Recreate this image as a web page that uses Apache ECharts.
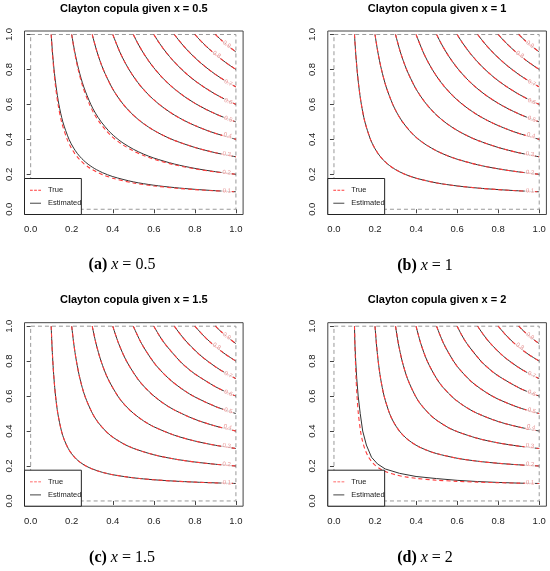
<!DOCTYPE html>
<html>
<head>
<meta charset="utf-8">
<script src="https://cdn.jsdelivr.net/npm/echarts@6/dist/echarts.min.js"></script>
<style>
html,body{margin:0;padding:0;background:#fff;}
#main{width:550px;height:571px;}
</style>
</head>
<body>
<div id="main"></div>
<script>
// axis ticks and the unit square drawn dashed in every panel
var tickVals = [0, 0.2, 0.4, 0.6, 0.8, 1];
var unitSquare = [[0,0],[1,0],[1,1],[0,1],[0,0]];

// contour labels (read at the right end of each level curve)
var levelText = ['0.1','0.2','0.3','0.4','0.5','0.6','0.7','0.8','0.9'];
var labelPos = [[0.955,0.105],[0.955,0.21],[0.955,0.316],[0.96,0.422],[0.963,0.516],[0.963,0.617],[0.963,0.723],[0.906,0.885],[0.955,0.943]];
var labelAngle = [-4, -6, -10, -14, -18, -22, -26, -32, -36];

// panel titles and captions
var xGiven = ['0.5', '1', '1.5', '2'];
var panelTag = ['a', 'b', 'c', 'd'];

// level curves (a) and (b)
var curvesAB = [
  [[0.1,1],[0.1055,0.9],[0.1125,0.8],[0.1214,0.7],[0.1335,0.6],[0.1507,0.5],[0.1778,0.4],[0.1982,0.35],[0.2141,0.32],[0.227,0.3],[0.2421,0.28],[0.26,0.26],[0.28,0.2421],[0.3,0.227],[0.32,0.2141],[0.35,0.1982],[0.4,0.1778],[0.5,0.1507],[0.6,0.1335],[0.7,0.1214],[0.8,0.1125],[0.9,0.1055],[1,0.1]],
  [[0.2,1],[0.2137,0.9],[0.2313,0.8],[0.2544,0.7],[0.2865,0.6],[0.3076,0.55],[0.334,0.5],[0.3678,0.45],[0.3884,0.425],[0.406,0.406],[0.425,0.3884],[0.45,0.3678],[0.5,0.334],[0.55,0.3076],[0.6,0.2865],[0.7,0.2544],[0.8,0.2313],[0.9,0.2137],[1,0.2]],
  [[0.3,1],[0.3234,0.9],[0.3537,0.8],[0.3942,0.7],[0.4202,0.65],[0.4514,0.6],[0.4899,0.55],[0.519,0.519],[0.55,0.4899],[0.6,0.4514],[0.65,0.4202],[0.7,0.3942],[0.8,0.3537],[0.9,0.3234],[1,0.3]],
  [[0.4,1],[0.4343,0.9],[0.4551,0.85],[0.4789,0.8],[0.5066,0.75],[0.5393,0.7],[0.5786,0.65],[0.613,0.613],[0.65,0.5786],[0.7,0.5393],[0.75,0.5066],[0.8,0.4789],[0.85,0.4551],[0.9,0.4343],[1,0.4]],
  [[0.5,1],[0.5216,0.95],[0.5461,0.9],[0.5742,0.85],[0.6064,0.8],[0.6443,0.75],[0.6703,0.72],[0.6945,0.6945],[0.72,0.6703],[0.75,0.6443],[0.8,0.6064],[0.85,0.5742],[0.9,0.5461],[0.95,0.5216],[1,0.5]],
  [[0.6,1],[0.6274,0.95],[0.6586,0.9],[0.6944,0.85],[0.7358,0.8],[0.767,0.767],[0.8,0.7358],[0.85,0.6944],[0.9,0.6586],[0.95,0.6274],[1,0.6]],
  [[0.7,1],[0.7336,0.95],[0.7718,0.9],[0.816,0.85],[0.833,0.833],[0.85,0.816],[0.9,0.7718],[0.95,0.7336],[1,0.7]],
  [[0.8,1],[0.8194,0.975],[0.84,0.95],[0.8667,0.92],[0.893,0.893],[0.92,0.8667],[0.95,0.84],[0.975,0.8194],[1,0.8]],
  [[0.9,1],[0.927,0.97],[0.948,0.948],[0.97,0.927],[1,0.9]]
];

// panel (a): the two lowest estimated curves sit a little outside the true ones
var estA1 = [[0.1,1],[0.1062,0.9],[0.114,0.8],[0.1241,0.7],[0.1375,0.6],[0.1568,0.5],[0.1869,0.4],[0.2095,0.35],[0.2271,0.32],[0.2411,0.3],[0.2577,0.28],[0.2685,0.2685],[0.28,0.2577],[0.3,0.2411],[0.32,0.2271],[0.35,0.2095],[0.4,0.1869],[0.5,0.1568],[0.6,0.1375],[0.7,0.1241],[0.8,0.114],[0.9,0.1062],[1,0.1]];
var estA2 = [[0.2,1],[0.215,0.9],[0.2339,0.8],[0.2588,0.7],[0.2931,0.6],[0.3156,0.55],[0.3436,0.5],[0.379,0.45],[0.3962,0.43],[0.4127,0.4127],[0.43,0.3962],[0.45,0.379],[0.5,0.3436],[0.55,0.3156],[0.6,0.2931],[0.7,0.2588],[0.8,0.2339],[0.9,0.215],[1,0.2]];

// panel (c)
var curvesC = [
  [[0.1,1],[0.1035,0.9],[0.1079,0.8],[0.1136,0.7],[0.1213,0.6],[0.1324,0.5],[0.1501,0.4],[0.1636,0.35],[0.1832,0.3],[0.1997,0.27],[0.2139,0.25],[0.2309,0.2309],[0.25,0.2139],[0.27,0.1997],[0.3,0.1832],[0.35,0.1636],[0.4,0.1501],[0.5,0.1324],[0.6,0.1213],[0.7,0.1136],[0.8,0.1079],[0.9,0.1035],[1,0.1]],
  [[0.2,1],[0.21,0.9],[0.2229,0.8],[0.2401,0.7],[0.2643,0.6],[0.3013,0.5],[0.3283,0.45],[0.3651,0.4],[0.382,0.382],[0.4,0.3651],[0.45,0.3283],[0.5,0.3013],[0.6,0.2643],[0.7,0.2401],[0.8,0.2229],[0.9,0.21],[1,0.2]],
  [[0.3,1],[0.3186,0.9],[0.3429,0.8],[0.3762,0.7],[0.4246,0.6],[0.4582,0.55],[0.501,0.501],[0.55,0.4582],[0.6,0.4246],[0.7,0.3762],[0.8,0.3429],[0.9,0.3186],[1,0.3]],
  [[0.4,1],[0.4289,0.9],[0.4671,0.8],[0.5206,0.7],[0.5563,0.65],[0.6004,0.6004],[0.65,0.5563],[0.7,0.5206],[0.8,0.4671],[0.9,0.4289],[1,0.4]],
  [[0.5,1],[0.5406,0.9],[0.5952,0.8],[0.6304,0.75],[0.6863,0.6863],[0.75,0.6304],[0.8,0.5952],[0.9,0.5406],[1,0.5]],
  [[0.6,1],[0.6249,0.95],[0.6536,0.9],[0.7268,0.8],[0.7621,0.7621],[0.8,0.7268],[0.9,0.6536],[0.95,0.6249],[1,0.6]],
  [[0.7,1],[0.7315,0.95],[0.768,0.9],[0.8301,0.8301],[0.9,0.768],[0.95,0.7315],[1,0.7]],
  [[0.8,1],[0.8386,0.95],[0.8602,0.925],[0.8917,0.8917],[0.925,0.8602],[0.95,0.8386],[1,0.8]],
  [[0.9,1],[0.9221,0.975],[0.948,0.948],[0.975,0.9221],[1,0.9]]
];

// panel (d)
var curvesD = [
  [[0.1,1],[0.102,0.9],[0.1045,0.8],[0.1077,0.7],[0.1123,0.6],[0.1188,0.5],[0.1294,0.4],[0.1376,0.35],[0.1496,0.3],[0.1689,0.25],[0.1874,0.22],[0.2026,0.2026],[0.22,0.1874],[0.25,0.1689],[0.3,0.1496],[0.35,0.1376],[0.4,0.1294],[0.5,0.1188],[0.6,0.1123],[0.7,0.1077],[0.8,0.1045],[0.9,0.102],[1,0.1]],
  [[0.2,1],[0.2068,0.9],[0.2155,0.8],[0.2274,0.7],[0.2444,0.6],[0.2711,0.5],[0.2911,0.45],[0.319,0.4],[0.3555,0.3555],[0.4,0.319],[0.45,0.2911],[0.5,0.2711],[0.6,0.2444],[0.7,0.2274],[0.8,0.2155],[0.9,0.2068],[1,0.2]],
  [[0.3,1],[0.3139,0.9],[0.3323,0.8],[0.3581,0.7],[0.3969,0.6],[0.4246,0.55],[0.4802,0.4802],[0.55,0.4246],[0.6,0.3969],[0.7,0.3581],[0.8,0.3323],[0.9,0.3139],[1,0.3]],
  [[0.4,1],[0.4232,0.9],[0.4546,0.8],[0.5001,0.7],[0.5314,0.65],[0.5855,0.5855],[0.65,0.5314],[0.7,0.5001],[0.8,0.4546],[0.9,0.4232],[1,0.4]],
  [[0.5,1],[0.5346,0.9],[0.5825,0.8],[0.6144,0.75],[0.6762,0.6762],[0.75,0.6144],[0.8,0.5825],[0.9,0.5346],[1,0.5]],
  [[0.6,1],[0.622,0.95],[0.648,0.9],[0.716,0.8],[0.756,0.756],[0.8,0.716],[0.9,0.648],[0.95,0.622],[1,0.6]],
  [[0.7,1],[0.7291,0.95],[0.7634,0.9],[0.8268,0.8268],[0.9,0.7634],[0.95,0.7291],[1,0.7]],
  [[0.8,1],[0.8369,0.95],[0.8578,0.925],[0.8903,0.8903],[0.925,0.8578],[0.95,0.8369],[1,0.8]],
  [[0.9,1],[0.9216,0.975],[0.9477,0.9477],[0.975,0.9216],[1,0.9]]
];
// panel (d): estimated lowest curve has a kink near the diagonal
var estD1 = [[0.1,1],[0.102,0.9],[0.106,0.8],[0.111,0.7],[0.118,0.6],[0.128,0.5],[0.14,0.4],[0.158,0.32],[0.183,0.25],[0.212,0.212],[0.25,0.183],[0.32,0.158],[0.4,0.14],[0.5,0.128],[0.6,0.118],[0.7,0.111],[0.8,0.106],[0.9,0.102],[1,0.1]];

var trueSets = [curvesAB, curvesAB, curvesC, curvesD];
var estSets = [
  [estA1, estA2].concat(curvesAB.slice(2)),
  curvesAB,
  curvesC,
  [estD1].concat(curvesD.slice(1))
];

// layout of the 2x2 figure
var gridPos = [
  {left: 24.5, top: 31},
  {left: 327.8, top: 31},
  {left: 24.5, top: 322.7},
  {left: 327.8, top: 322.7}
];
var gridW = 218.6, gridH = 183.5;
var capPos = [[122, 265], [425, 266], [122, 558], [425, 558]];

var iconTrue = 'path://M0,0h3v1h-3z M4.5,0h3v1h-3z M9,0h3v1h-3z';
var iconEst = 'path://M0,0h12v1h-12z';

var myChart = echarts.init(document.getElementById('main'), null, {renderer: 'canvas'});

var grids = [], xAxes = [], yAxes = [], series = [], legends = [], graphics = [];

for (var k = 0; k < 4; k++) {
  grids.push({
    left: gridPos[k].left, top: gridPos[k].top, width: gridW, height: gridH,
    show: true, borderColor: '#444', borderWidth: 1, backgroundColor: 'transparent'
  });
  xAxes.push({
    type: 'value', gridIndex: k, min: -0.03, max: 1.035,
    axisLine: {show: false},
    splitLine: {show: false},
    axisTick: {show: true, length: 4, customValues: tickVals, lineStyle: {color: '#444'}},
    axisLabel: {customValues: tickVals, margin: 10, fontSize: 9.5, color: '#222', fontFamily: 'Liberation Sans',
      formatter: function (v) { return v.toFixed(1); }}
  });
  yAxes.push({
    type: 'value', gridIndex: k, min: -0.03, max: 1.02,
    axisLine: {show: false},
    splitLine: {show: false},
    axisTick: {show: true, length: 4, customValues: tickVals, lineStyle: {color: '#444'}},
    axisLabel: {customValues: tickVals, rotate: 90, margin: 10, fontSize: 9.5, color: '#222', fontFamily: 'Liberation Sans',
      formatter: function (v) { return v.toFixed(1); }}
  });

  series.push({
    type: 'line', name: 'frame', xAxisIndex: k, yAxisIndex: k, data: unitSquare,
    symbol: 'none', silent: true, z: 1,
    lineStyle: {color: '#999', width: 1, type: [4, 3]}
  });

  var est = estSets[k], tru = trueSets[k];
  for (var i = 0; i < est.length; i++) {
    series.push({
      type: 'line', name: 'Estimated', xAxisIndex: k, yAxisIndex: k, data: est[i],
      symbol: 'none', smooth: est[i] === estD1 ? false : 0.3, z: 2,
      lineStyle: {color: '#333', width: 1}, itemStyle: {color: '#333'}
    });
  }
  for (var i = 0; i < tru.length; i++) {
    series.push({
      type: 'line', name: 'True', xAxisIndex: k, yAxisIndex: k, data: tru[i],
      symbol: 'none', smooth: 0.3, z: 3,
      lineStyle: {color: '#ff3b3b', width: 1.1, type: [4, 3]}, itemStyle: {color: '#ff3b3b'}
    });
  }

  var labs = [];
  for (var i = 0; i < labelPos.length; i++) {
    labs.push({value: labelPos[i], label: {rotate: labelAngle[i], formatter: levelText[i]}});
  }
  series.push({
    type: 'scatter', name: 'levels', xAxisIndex: k, yAxisIndex: k, data: labs,
    symbolSize: 0, silent: true, z: 4,
    label: {show: true, position: 'inside', fontSize: 6, color: '#e07878', fontFamily: 'Liberation Sans',
      backgroundColor: '#fff', padding: [0, 1]}
  });

  legends.push({
    data: [{name: 'True', icon: iconTrue, itemStyle: {color: '#ff3b3b'}},
           {name: 'Estimated', icon: iconEst, itemStyle: {color: '#333'}}],
    left: gridPos[k].left, top: gridPos[k].top + gridH - 36,
    orient: 'vertical', itemWidth: 11, itemHeight: 1.2, itemGap: 3,
    padding: [6.7, 0, 6.3, 5.5],
    backgroundColor: '#fff', borderColor: '#222', borderWidth: 1, borderRadius: 0,
    textStyle: {fontSize: 7.5, lineHeight: 10, color: '#222', fontFamily: 'Liberation Sans', padding: [0, 0, 0, 2]},
    selectedMode: false
  });

  graphics.push({
    type: 'text', x: gridPos[k].left + gridW / 2, y: gridPos[k].top - 22.5,
    style: {text: 'Clayton copula given x = ' + xGiven[k], font: 'bold 11px "Liberation Sans"',
      fill: '#000', textAlign: 'center', textVerticalAlign: 'middle'}
  });
  graphics.push({
    type: 'text', x: capPos[k][0], y: capPos[k][1],
    style: {
      text: '{b|(' + panelTag[k] + ')} {i|x} {r|= ' + xGiven[k] + '}',
      textAlign: 'center', textVerticalAlign: 'middle', fill: '#000',
      font: '16px "Liberation Serif"',
      rich: {
        b: {fontFamily: 'Liberation Serif', fontSize: 16, fontWeight: 'bold', fill: '#000'},
        i: {fontFamily: 'Liberation Serif', fontSize: 16, fontStyle: 'italic', fill: '#000'},
        r: {fontFamily: 'Liberation Serif', fontSize: 16, fill: '#000'}
      }
    }
  });
}

var option = {
  animation: false,
  backgroundColor: '#fff',
  grid: grids,
  xAxis: xAxes,
  yAxis: yAxes,
  legend: legends,
  series: series,
  graphic: graphics
};
myChart.setOption(option);
</script>
</body>
</html>
